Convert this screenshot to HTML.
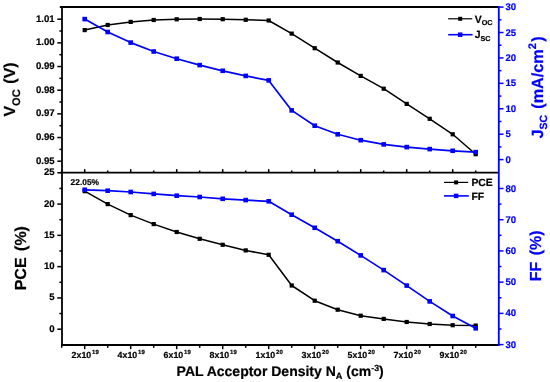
<!DOCTYPE html>
<html><head><meta charset="utf-8"><title>PAL Acceptor Density</title>
<style>
html,body{margin:0;padding:0;background:#fff;}
body{width:550px;height:382px;overflow:hidden;}
svg{display:block;}
text{font-family:'Liberation Sans', Arial, Helvetica, sans-serif;text-rendering:geometricPrecision;stroke:currentColor;stroke-width:0.2px;}
</style></head>
<body>
<svg width="550" height="382" viewBox="0 0 550 382" font-family="'Liberation Sans', Arial, Helvetica, sans-serif">
<rect width="550" height="382" fill="#fff"/>
<line x1="57.30" y1="161.20" x2="62.00" y2="161.20" stroke="#000000" stroke-width="1.5"/>
<text x="54.60" y="163.70" font-size="9.6" fill="#000000" color="#000000" text-anchor="end" font-weight="bold" >0.95</text>
<line x1="57.30" y1="137.53" x2="62.00" y2="137.53" stroke="#000000" stroke-width="1.5"/>
<text x="54.60" y="140.03" font-size="9.6" fill="#000000" color="#000000" text-anchor="end" font-weight="bold" >0.96</text>
<line x1="57.30" y1="113.86" x2="62.00" y2="113.86" stroke="#000000" stroke-width="1.5"/>
<text x="54.60" y="116.36" font-size="9.6" fill="#000000" color="#000000" text-anchor="end" font-weight="bold" >0.97</text>
<line x1="57.30" y1="90.19" x2="62.00" y2="90.19" stroke="#000000" stroke-width="1.5"/>
<text x="54.60" y="92.69" font-size="9.6" fill="#000000" color="#000000" text-anchor="end" font-weight="bold" >0.98</text>
<line x1="57.30" y1="66.52" x2="62.00" y2="66.52" stroke="#000000" stroke-width="1.5"/>
<text x="54.60" y="69.02" font-size="9.6" fill="#000000" color="#000000" text-anchor="end" font-weight="bold" >0.99</text>
<line x1="57.30" y1="42.85" x2="62.00" y2="42.85" stroke="#000000" stroke-width="1.5"/>
<text x="54.60" y="45.35" font-size="9.6" fill="#000000" color="#000000" text-anchor="end" font-weight="bold" >1.00</text>
<line x1="57.30" y1="19.18" x2="62.00" y2="19.18" stroke="#000000" stroke-width="1.5"/>
<text x="54.60" y="21.68" font-size="9.6" fill="#000000" color="#000000" text-anchor="end" font-weight="bold" >1.01</text>
<line x1="59.40" y1="149.36" x2="62.00" y2="149.36" stroke="#000000" stroke-width="1.5"/>
<line x1="59.40" y1="125.69" x2="62.00" y2="125.69" stroke="#000000" stroke-width="1.5"/>
<line x1="59.40" y1="102.02" x2="62.00" y2="102.02" stroke="#000000" stroke-width="1.5"/>
<line x1="59.40" y1="78.35" x2="62.00" y2="78.35" stroke="#000000" stroke-width="1.5"/>
<line x1="59.40" y1="54.68" x2="62.00" y2="54.68" stroke="#000000" stroke-width="1.5"/>
<line x1="59.40" y1="31.02" x2="62.00" y2="31.02" stroke="#000000" stroke-width="1.5"/>
<line x1="57.30" y1="329.20" x2="62.00" y2="329.20" stroke="#000000" stroke-width="1.5"/>
<text x="54.60" y="331.70" font-size="9.6" fill="#000000" color="#000000" text-anchor="end" font-weight="bold" >0</text>
<line x1="57.30" y1="297.92" x2="62.00" y2="297.92" stroke="#000000" stroke-width="1.5"/>
<text x="54.60" y="300.42" font-size="9.6" fill="#000000" color="#000000" text-anchor="end" font-weight="bold" >5</text>
<line x1="57.30" y1="266.64" x2="62.00" y2="266.64" stroke="#000000" stroke-width="1.5"/>
<text x="54.60" y="269.14" font-size="9.6" fill="#000000" color="#000000" text-anchor="end" font-weight="bold" >10</text>
<line x1="57.30" y1="235.36" x2="62.00" y2="235.36" stroke="#000000" stroke-width="1.5"/>
<text x="54.60" y="237.86" font-size="9.6" fill="#000000" color="#000000" text-anchor="end" font-weight="bold" >15</text>
<line x1="57.30" y1="204.08" x2="62.00" y2="204.08" stroke="#000000" stroke-width="1.5"/>
<text x="54.60" y="206.58" font-size="9.6" fill="#000000" color="#000000" text-anchor="end" font-weight="bold" >20</text>
<line x1="57.30" y1="172.80" x2="62.00" y2="172.80" stroke="#000000" stroke-width="1.5"/>
<text x="54.60" y="175.30" font-size="9.6" fill="#000000" color="#000000" text-anchor="end" font-weight="bold" >25</text>
<line x1="59.40" y1="313.56" x2="62.00" y2="313.56" stroke="#000000" stroke-width="1.5"/>
<line x1="59.40" y1="282.28" x2="62.00" y2="282.28" stroke="#000000" stroke-width="1.5"/>
<line x1="59.40" y1="251.00" x2="62.00" y2="251.00" stroke="#000000" stroke-width="1.5"/>
<line x1="59.40" y1="219.72" x2="62.00" y2="219.72" stroke="#000000" stroke-width="1.5"/>
<line x1="59.40" y1="188.44" x2="62.00" y2="188.44" stroke="#000000" stroke-width="1.5"/>
<line x1="498.80" y1="159.60" x2="503.50" y2="159.60" stroke="#0000ff" stroke-width="1.5"/>
<text x="505.50" y="162.60" font-size="9.6" fill="#0000ff" color="#0000ff" text-anchor="start" font-weight="bold" >0</text>
<line x1="498.80" y1="134.19" x2="503.50" y2="134.19" stroke="#0000ff" stroke-width="1.5"/>
<text x="505.50" y="137.19" font-size="9.6" fill="#0000ff" color="#0000ff" text-anchor="start" font-weight="bold" >5</text>
<line x1="498.80" y1="108.77" x2="503.50" y2="108.77" stroke="#0000ff" stroke-width="1.5"/>
<text x="505.50" y="111.77" font-size="9.6" fill="#0000ff" color="#0000ff" text-anchor="start" font-weight="bold" >10</text>
<line x1="498.80" y1="83.35" x2="503.50" y2="83.35" stroke="#0000ff" stroke-width="1.5"/>
<text x="505.50" y="86.35" font-size="9.6" fill="#0000ff" color="#0000ff" text-anchor="start" font-weight="bold" >15</text>
<line x1="498.80" y1="57.94" x2="503.50" y2="57.94" stroke="#0000ff" stroke-width="1.5"/>
<text x="505.50" y="60.94" font-size="9.6" fill="#0000ff" color="#0000ff" text-anchor="start" font-weight="bold" >20</text>
<line x1="498.80" y1="32.52" x2="503.50" y2="32.52" stroke="#0000ff" stroke-width="1.5"/>
<text x="505.50" y="35.52" font-size="9.6" fill="#0000ff" color="#0000ff" text-anchor="start" font-weight="bold" >25</text>
<line x1="498.80" y1="7.11" x2="503.50" y2="7.11" stroke="#0000ff" stroke-width="1.5"/>
<text x="505.50" y="10.11" font-size="9.6" fill="#0000ff" color="#0000ff" text-anchor="start" font-weight="bold" >30</text>
<line x1="498.80" y1="146.89" x2="501.40" y2="146.89" stroke="#0000ff" stroke-width="1.5"/>
<line x1="498.80" y1="121.48" x2="501.40" y2="121.48" stroke="#0000ff" stroke-width="1.5"/>
<line x1="498.80" y1="96.06" x2="501.40" y2="96.06" stroke="#0000ff" stroke-width="1.5"/>
<line x1="498.80" y1="70.65" x2="501.40" y2="70.65" stroke="#0000ff" stroke-width="1.5"/>
<line x1="498.80" y1="45.23" x2="501.40" y2="45.23" stroke="#0000ff" stroke-width="1.5"/>
<line x1="498.80" y1="19.82" x2="501.40" y2="19.82" stroke="#0000ff" stroke-width="1.5"/>
<line x1="498.80" y1="344.60" x2="503.50" y2="344.60" stroke="#0000ff" stroke-width="1.5"/>
<text x="505.50" y="347.60" font-size="9.6" fill="#0000ff" color="#0000ff" text-anchor="start" font-weight="bold" >30</text>
<line x1="498.80" y1="313.38" x2="503.50" y2="313.38" stroke="#0000ff" stroke-width="1.5"/>
<text x="505.50" y="316.38" font-size="9.6" fill="#0000ff" color="#0000ff" text-anchor="start" font-weight="bold" >40</text>
<line x1="498.80" y1="282.16" x2="503.50" y2="282.16" stroke="#0000ff" stroke-width="1.5"/>
<text x="505.50" y="285.16" font-size="9.6" fill="#0000ff" color="#0000ff" text-anchor="start" font-weight="bold" >50</text>
<line x1="498.80" y1="250.94" x2="503.50" y2="250.94" stroke="#0000ff" stroke-width="1.5"/>
<text x="505.50" y="253.94" font-size="9.6" fill="#0000ff" color="#0000ff" text-anchor="start" font-weight="bold" >60</text>
<line x1="498.80" y1="219.72" x2="503.50" y2="219.72" stroke="#0000ff" stroke-width="1.5"/>
<text x="505.50" y="222.72" font-size="9.6" fill="#0000ff" color="#0000ff" text-anchor="start" font-weight="bold" >70</text>
<line x1="498.80" y1="188.50" x2="503.50" y2="188.50" stroke="#0000ff" stroke-width="1.5"/>
<text x="505.50" y="191.50" font-size="9.6" fill="#0000ff" color="#0000ff" text-anchor="start" font-weight="bold" >80</text>
<line x1="498.80" y1="328.99" x2="501.40" y2="328.99" stroke="#0000ff" stroke-width="1.5"/>
<line x1="498.80" y1="297.77" x2="501.40" y2="297.77" stroke="#0000ff" stroke-width="1.5"/>
<line x1="498.80" y1="266.55" x2="501.40" y2="266.55" stroke="#0000ff" stroke-width="1.5"/>
<line x1="498.80" y1="235.33" x2="501.40" y2="235.33" stroke="#0000ff" stroke-width="1.5"/>
<line x1="498.80" y1="204.11" x2="501.40" y2="204.11" stroke="#0000ff" stroke-width="1.5"/>
<line x1="61.70" y1="345.00" x2="61.70" y2="347.80" stroke="#000000" stroke-width="1.5"/>
<line x1="61.70" y1="172.70" x2="61.70" y2="170.50" stroke="#000000" stroke-width="1.5"/>
<line x1="84.70" y1="345.00" x2="84.70" y2="349.20" stroke="#000000" stroke-width="1.5"/>
<line x1="84.70" y1="172.70" x2="84.70" y2="169.10" stroke="#000000" stroke-width="1.5"/>
<line x1="107.70" y1="345.00" x2="107.70" y2="347.80" stroke="#000000" stroke-width="1.5"/>
<line x1="107.70" y1="172.70" x2="107.70" y2="170.50" stroke="#000000" stroke-width="1.5"/>
<line x1="130.70" y1="345.00" x2="130.70" y2="349.20" stroke="#000000" stroke-width="1.5"/>
<line x1="130.70" y1="172.70" x2="130.70" y2="169.10" stroke="#000000" stroke-width="1.5"/>
<line x1="153.70" y1="345.00" x2="153.70" y2="347.80" stroke="#000000" stroke-width="1.5"/>
<line x1="153.70" y1="172.70" x2="153.70" y2="170.50" stroke="#000000" stroke-width="1.5"/>
<line x1="176.70" y1="345.00" x2="176.70" y2="349.20" stroke="#000000" stroke-width="1.5"/>
<line x1="176.70" y1="172.70" x2="176.70" y2="169.10" stroke="#000000" stroke-width="1.5"/>
<line x1="199.70" y1="345.00" x2="199.70" y2="347.80" stroke="#000000" stroke-width="1.5"/>
<line x1="199.70" y1="172.70" x2="199.70" y2="170.50" stroke="#000000" stroke-width="1.5"/>
<line x1="222.70" y1="345.00" x2="222.70" y2="349.20" stroke="#000000" stroke-width="1.5"/>
<line x1="222.70" y1="172.70" x2="222.70" y2="169.10" stroke="#000000" stroke-width="1.5"/>
<line x1="245.70" y1="345.00" x2="245.70" y2="347.80" stroke="#000000" stroke-width="1.5"/>
<line x1="245.70" y1="172.70" x2="245.70" y2="170.50" stroke="#000000" stroke-width="1.5"/>
<line x1="268.70" y1="345.00" x2="268.70" y2="349.20" stroke="#000000" stroke-width="1.5"/>
<line x1="268.70" y1="172.70" x2="268.70" y2="169.10" stroke="#000000" stroke-width="1.5"/>
<line x1="291.70" y1="345.00" x2="291.70" y2="347.80" stroke="#000000" stroke-width="1.5"/>
<line x1="291.70" y1="172.70" x2="291.70" y2="170.50" stroke="#000000" stroke-width="1.5"/>
<line x1="314.70" y1="345.00" x2="314.70" y2="349.20" stroke="#000000" stroke-width="1.5"/>
<line x1="314.70" y1="172.70" x2="314.70" y2="169.10" stroke="#000000" stroke-width="1.5"/>
<line x1="337.70" y1="345.00" x2="337.70" y2="347.80" stroke="#000000" stroke-width="1.5"/>
<line x1="337.70" y1="172.70" x2="337.70" y2="170.50" stroke="#000000" stroke-width="1.5"/>
<line x1="360.70" y1="345.00" x2="360.70" y2="349.20" stroke="#000000" stroke-width="1.5"/>
<line x1="360.70" y1="172.70" x2="360.70" y2="169.10" stroke="#000000" stroke-width="1.5"/>
<line x1="383.70" y1="345.00" x2="383.70" y2="347.80" stroke="#000000" stroke-width="1.5"/>
<line x1="383.70" y1="172.70" x2="383.70" y2="170.50" stroke="#000000" stroke-width="1.5"/>
<line x1="406.70" y1="345.00" x2="406.70" y2="349.20" stroke="#000000" stroke-width="1.5"/>
<line x1="406.70" y1="172.70" x2="406.70" y2="169.10" stroke="#000000" stroke-width="1.5"/>
<line x1="429.70" y1="345.00" x2="429.70" y2="347.80" stroke="#000000" stroke-width="1.5"/>
<line x1="429.70" y1="172.70" x2="429.70" y2="170.50" stroke="#000000" stroke-width="1.5"/>
<line x1="452.70" y1="345.00" x2="452.70" y2="349.20" stroke="#000000" stroke-width="1.5"/>
<line x1="452.70" y1="172.70" x2="452.70" y2="169.10" stroke="#000000" stroke-width="1.5"/>
<line x1="475.70" y1="345.00" x2="475.70" y2="347.80" stroke="#000000" stroke-width="1.5"/>
<line x1="475.70" y1="172.70" x2="475.70" y2="170.50" stroke="#000000" stroke-width="1.5"/>
<text x="85.20" y="357.9" font-size="8.8" font-weight="bold" text-anchor="middle">2x10<tspan font-size="6" dy="-3.7" dx="0.9">19</tspan></text>
<text x="131.20" y="357.9" font-size="8.8" font-weight="bold" text-anchor="middle">4x10<tspan font-size="6" dy="-3.7" dx="0.9">19</tspan></text>
<text x="177.20" y="357.9" font-size="8.8" font-weight="bold" text-anchor="middle">6x10<tspan font-size="6" dy="-3.7" dx="0.9">19</tspan></text>
<text x="223.20" y="357.9" font-size="8.8" font-weight="bold" text-anchor="middle">8x10<tspan font-size="6" dy="-3.7" dx="0.9">19</tspan></text>
<text x="269.20" y="357.9" font-size="8.8" font-weight="bold" text-anchor="middle">1x10<tspan font-size="6" dy="-3.7" dx="0.9">20</tspan></text>
<text x="315.20" y="357.9" font-size="8.8" font-weight="bold" text-anchor="middle">3x10<tspan font-size="6" dy="-3.7" dx="0.9">20</tspan></text>
<text x="361.20" y="357.9" font-size="8.8" font-weight="bold" text-anchor="middle">5x10<tspan font-size="6" dy="-3.7" dx="0.9">20</tspan></text>
<text x="407.20" y="357.9" font-size="8.8" font-weight="bold" text-anchor="middle">7x10<tspan font-size="6" dy="-3.7" dx="0.9">20</tspan></text>
<text x="453.20" y="357.9" font-size="8.8" font-weight="bold" text-anchor="middle">9x10<tspan font-size="6" dy="-3.7" dx="0.9">20</tspan></text>
<line x1="59.80" y1="7.00" x2="498.80" y2="7.00" stroke="#000000" stroke-width="1.8"/>
<line x1="60.20" y1="172.70" x2="498.80" y2="172.70" stroke="#000000" stroke-width="1.8"/>
<line x1="61.00" y1="345.00" x2="498.80" y2="345.00" stroke="#000000" stroke-width="1.8"/>
<line x1="62.00" y1="6.10" x2="62.00" y2="345.90" stroke="#000000" stroke-width="1.8"/>
<line x1="498.80" y1="6.10" x2="498.80" y2="345.90" stroke="#0000ff" stroke-width="1.8"/>
<polyline points="84.70,30.10 107.70,25.00 130.70,21.90 153.70,20.00 176.70,19.30 199.70,19.00 222.70,19.20 245.70,19.80 268.70,20.50 291.70,33.60 314.70,48.20 337.70,62.50 360.70,75.90 383.70,88.70 406.70,103.90 429.70,118.80 452.70,134.30 475.70,154.20" fill="none" stroke="#000000" stroke-width="1.5" stroke-linejoin="round"/>
<rect x="82.60" y="28.00" width="4.2" height="4.2" fill="#000000"/>
<rect x="105.60" y="22.90" width="4.2" height="4.2" fill="#000000"/>
<rect x="128.60" y="19.80" width="4.2" height="4.2" fill="#000000"/>
<rect x="151.60" y="17.90" width="4.2" height="4.2" fill="#000000"/>
<rect x="174.60" y="17.20" width="4.2" height="4.2" fill="#000000"/>
<rect x="197.60" y="16.90" width="4.2" height="4.2" fill="#000000"/>
<rect x="220.60" y="17.10" width="4.2" height="4.2" fill="#000000"/>
<rect x="243.60" y="17.70" width="4.2" height="4.2" fill="#000000"/>
<rect x="266.60" y="18.40" width="4.2" height="4.2" fill="#000000"/>
<rect x="289.60" y="31.50" width="4.2" height="4.2" fill="#000000"/>
<rect x="312.60" y="46.10" width="4.2" height="4.2" fill="#000000"/>
<rect x="335.60" y="60.40" width="4.2" height="4.2" fill="#000000"/>
<rect x="358.60" y="73.80" width="4.2" height="4.2" fill="#000000"/>
<rect x="381.60" y="86.60" width="4.2" height="4.2" fill="#000000"/>
<rect x="404.60" y="101.80" width="4.2" height="4.2" fill="#000000"/>
<rect x="427.60" y="116.70" width="4.2" height="4.2" fill="#000000"/>
<rect x="450.60" y="132.20" width="4.2" height="4.2" fill="#000000"/>
<rect x="473.60" y="152.10" width="4.2" height="4.2" fill="#000000"/>
<polyline points="84.70,19.10 107.70,32.00 130.70,42.60 153.70,51.50 176.70,58.70 199.70,65.10 222.70,70.80 245.70,75.90 268.70,80.40 291.70,110.40 314.70,125.70 337.70,134.30 360.70,140.20 383.70,144.40 406.70,147.10 429.70,149.10 452.70,150.80 475.70,152.10" fill="none" stroke="#0000ff" stroke-width="1.7" stroke-linejoin="round"/>
<rect x="82.40" y="16.80" width="4.6" height="4.6" fill="#0000ff"/>
<rect x="105.40" y="29.70" width="4.6" height="4.6" fill="#0000ff"/>
<rect x="128.40" y="40.30" width="4.6" height="4.6" fill="#0000ff"/>
<rect x="151.40" y="49.20" width="4.6" height="4.6" fill="#0000ff"/>
<rect x="174.40" y="56.40" width="4.6" height="4.6" fill="#0000ff"/>
<rect x="197.40" y="62.80" width="4.6" height="4.6" fill="#0000ff"/>
<rect x="220.40" y="68.50" width="4.6" height="4.6" fill="#0000ff"/>
<rect x="243.40" y="73.60" width="4.6" height="4.6" fill="#0000ff"/>
<rect x="266.40" y="78.10" width="4.6" height="4.6" fill="#0000ff"/>
<rect x="289.40" y="108.10" width="4.6" height="4.6" fill="#0000ff"/>
<rect x="312.40" y="123.40" width="4.6" height="4.6" fill="#0000ff"/>
<rect x="335.40" y="132.00" width="4.6" height="4.6" fill="#0000ff"/>
<rect x="358.40" y="137.90" width="4.6" height="4.6" fill="#0000ff"/>
<rect x="381.40" y="142.10" width="4.6" height="4.6" fill="#0000ff"/>
<rect x="404.40" y="144.80" width="4.6" height="4.6" fill="#0000ff"/>
<rect x="427.40" y="146.80" width="4.6" height="4.6" fill="#0000ff"/>
<rect x="450.40" y="148.50" width="4.6" height="4.6" fill="#0000ff"/>
<rect x="473.40" y="149.80" width="4.6" height="4.6" fill="#0000ff"/>
<polyline points="84.70,191.20 107.70,204.10 130.70,215.10 153.70,224.10 176.70,232.00 199.70,238.80 222.70,244.80 245.70,250.40 268.70,254.80 291.70,285.50 314.70,300.70 337.70,309.70 360.70,315.70 383.70,318.90 406.70,322.00 429.70,324.00 452.70,325.20 475.70,325.60" fill="none" stroke="#000000" stroke-width="1.5" stroke-linejoin="round"/>
<rect x="82.60" y="189.10" width="4.2" height="4.2" fill="#000000"/>
<rect x="105.60" y="202.00" width="4.2" height="4.2" fill="#000000"/>
<rect x="128.60" y="213.00" width="4.2" height="4.2" fill="#000000"/>
<rect x="151.60" y="222.00" width="4.2" height="4.2" fill="#000000"/>
<rect x="174.60" y="229.90" width="4.2" height="4.2" fill="#000000"/>
<rect x="197.60" y="236.70" width="4.2" height="4.2" fill="#000000"/>
<rect x="220.60" y="242.70" width="4.2" height="4.2" fill="#000000"/>
<rect x="243.60" y="248.30" width="4.2" height="4.2" fill="#000000"/>
<rect x="266.60" y="252.70" width="4.2" height="4.2" fill="#000000"/>
<rect x="289.60" y="283.40" width="4.2" height="4.2" fill="#000000"/>
<rect x="312.60" y="298.60" width="4.2" height="4.2" fill="#000000"/>
<rect x="335.60" y="307.60" width="4.2" height="4.2" fill="#000000"/>
<rect x="358.60" y="313.60" width="4.2" height="4.2" fill="#000000"/>
<rect x="381.60" y="316.80" width="4.2" height="4.2" fill="#000000"/>
<rect x="404.60" y="319.90" width="4.2" height="4.2" fill="#000000"/>
<rect x="427.60" y="321.90" width="4.2" height="4.2" fill="#000000"/>
<rect x="450.60" y="323.10" width="4.2" height="4.2" fill="#000000"/>
<rect x="473.60" y="323.50" width="4.2" height="4.2" fill="#000000"/>
<polyline points="84.70,189.80 107.70,190.70 130.70,192.00 153.70,193.90 176.70,195.70 199.70,197.00 222.70,198.80 245.70,200.10 268.70,201.30 291.70,214.70 314.70,227.80 337.70,241.20 360.70,255.40 383.70,270.10 406.70,285.60 429.70,301.40 452.70,316.00 475.70,328.30" fill="none" stroke="#0000ff" stroke-width="1.7" stroke-linejoin="round"/>
<rect x="82.40" y="187.50" width="4.6" height="4.6" fill="#0000ff"/>
<rect x="105.40" y="188.40" width="4.6" height="4.6" fill="#0000ff"/>
<rect x="128.40" y="189.70" width="4.6" height="4.6" fill="#0000ff"/>
<rect x="151.40" y="191.60" width="4.6" height="4.6" fill="#0000ff"/>
<rect x="174.40" y="193.40" width="4.6" height="4.6" fill="#0000ff"/>
<rect x="197.40" y="194.70" width="4.6" height="4.6" fill="#0000ff"/>
<rect x="220.40" y="196.50" width="4.6" height="4.6" fill="#0000ff"/>
<rect x="243.40" y="197.80" width="4.6" height="4.6" fill="#0000ff"/>
<rect x="266.40" y="199.00" width="4.6" height="4.6" fill="#0000ff"/>
<rect x="289.40" y="212.40" width="4.6" height="4.6" fill="#0000ff"/>
<rect x="312.40" y="225.50" width="4.6" height="4.6" fill="#0000ff"/>
<rect x="335.40" y="238.90" width="4.6" height="4.6" fill="#0000ff"/>
<rect x="358.40" y="253.10" width="4.6" height="4.6" fill="#0000ff"/>
<rect x="381.40" y="267.80" width="4.6" height="4.6" fill="#0000ff"/>
<rect x="404.40" y="283.30" width="4.6" height="4.6" fill="#0000ff"/>
<rect x="427.40" y="299.10" width="4.6" height="4.6" fill="#0000ff"/>
<rect x="450.40" y="313.70" width="4.6" height="4.6" fill="#0000ff"/>
<rect x="473.40" y="326.00" width="4.6" height="4.6" fill="#0000ff"/>
<text x="70.60" y="184.70" font-size="8.4" fill="#000000" color="#000000" text-anchor="start" font-weight="bold" >22.05%</text>
<line x1="448.20" y1="18.80" x2="472.20" y2="18.80" stroke="#000000" stroke-width="1.2"/>
<rect x="458.20" y="16.80" width="4" height="4" fill="#000000"/>
<line x1="448.20" y1="34.70" x2="472.60" y2="34.70" stroke="#0000ff" stroke-width="1.6"/>
<rect x="457.95" y="32.45" width="4.5" height="4.5" fill="#0000ff"/>
<text x="474.8" y="22.6" font-size="10.4" font-weight="bold">V<tspan font-size="7.2" dy="2.4">OC</tspan></text>
<text x="474.8" y="38.2" font-size="10.4" font-weight="bold">J<tspan font-size="7.2" dy="2.4">SC</tspan></text>
<line x1="444.00" y1="182.40" x2="468.20" y2="182.40" stroke="#000000" stroke-width="1.2"/>
<rect x="454.10" y="180.40" width="4" height="4" fill="#000000"/>
<line x1="444.00" y1="195.90" x2="468.80" y2="195.90" stroke="#0000ff" stroke-width="1.6"/>
<rect x="453.85" y="193.65" width="4.5" height="4.5" fill="#0000ff"/>
<text x="471.40" y="185.90" font-size="10.4" fill="#000000" color="#000000" text-anchor="start" font-weight="bold" >PCE</text>
<text x="471.40" y="199.50" font-size="10.4" fill="#000000" color="#000000" text-anchor="start" font-weight="bold" >FF</text>
<text transform="translate(15.1,116.6) rotate(-90)" font-size="16" font-weight="bold">V<tspan font-size="11" dy="4.7">OC</tspan><tspan dy="-4.7" dx="1.3"> (V)</tspan></text>
<text transform="translate(25.8,290.3) rotate(-90)" font-size="16" font-weight="bold">PCE<tspan dx="2"> (%)</tspan></text>
<text transform="translate(542.8,138.6) rotate(-90)" font-size="16.2" font-weight="bold" fill="#0000ff" color="#0000ff">J<tspan font-size="10.5" dy="4.5">SC</tspan><tspan dy="-4.5" dx="1.8"> (mA/cm</tspan><tspan font-size="11" dy="-6.4">2</tspan><tspan dy="6.4" dx="1.5">)</tspan></text>
<text transform="translate(540.9,281.3) rotate(-90)" font-size="16" font-weight="bold" fill="#0000ff" color="#0000ff">FF<tspan dx="2"> (%)</tspan></text>
<text x="176.6" y="375.7" font-size="14" font-weight="bold">PAL Acceptor Density N<tspan font-size="9.2" dy="3.6">A</tspan><tspan dy="-3.6"> (cm</tspan><tspan font-size="8.8" dy="-5">-3</tspan><tspan dy="5">)</tspan></text>
</svg>
</body></html>
